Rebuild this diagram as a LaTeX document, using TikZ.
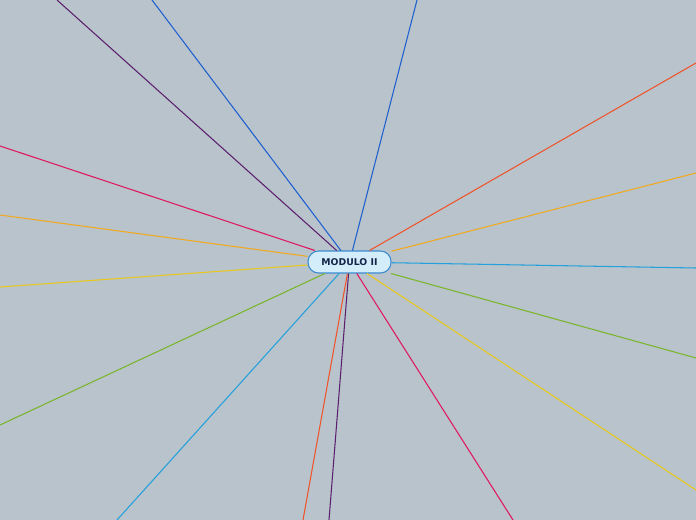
\documentclass[tikz,border=0pt]{standalone}
\usepackage{fontspec}
\setmainfont{DejaVu Sans}
\definecolor{bg}{HTML}{B8C3CB}
\definecolor{nodefill}{HTML}{D3EDFB}
\definecolor{nodeborder}{HTML}{3B8BD0}
\definecolor{nodetext}{HTML}{16264A}
\definecolor{cpurple}{HTML}{5B1F6E}
\definecolor{cblue}{HTML}{1E5FD0}
\definecolor{cred}{HTML}{F0532A}
\definecolor{camber}{HTML}{F2A91E}
\definecolor{ccyan}{HTML}{24A0DC}
\definecolor{cgreen}{HTML}{7AB52A}
\definecolor{cyellow}{HTML}{E8C81A}
\definecolor{cpink}{HTML}{E0165E}
\tikzset{
  branch/.style={line width=0.6pt},
  central/.style={draw=nodeborder, fill=nodefill, line width=0.6pt, rounded corners=6pt,
    minimum width=83*0.02cm, minimum height=22*0.02cm, inner sep=0pt,
    font=\fontsize{5.3}{6}\selectfont\bfseries, text=nodetext}
}
\begin{document}
\begin{tikzpicture}[x=0.02cm,y=-0.02cm]
\fill[bg] (0,0) rectangle (696,520);
\useasboundingbox (0,0) rectangle (696,520);
\clip (0,0) rectangle (696,520);
\node[central] (m) at (349.5,262) {MODULO II};
\coordinate (e1) at (57,0);
\coordinate (e2) at (152,0);
\coordinate (e3) at (417,0);
\coordinate (e4) at (696,63);
\coordinate (e5) at (696,173);
\coordinate (e6) at (696,268);
\coordinate (e7) at (696,358);
\coordinate (e8) at (696,490);
\coordinate (e9) at (513,520);
\coordinate (e10) at (329,520);
\coordinate (e11) at (303,520);
\coordinate (e12) at (117,520);
\coordinate (e13) at (0,425);
\coordinate (e14) at (0,287);
\coordinate (e15) at (0,215);
\coordinate (e16) at (0,146);
\draw[branch,cpurple] (m) -- (e1);
\draw[branch,cblue] (m) -- (e2);
\draw[branch,cblue] (m) -- (e3);
\draw[branch,cred] (m) -- (e4);
\draw[branch,camber] (m) -- (e5);
\draw[branch,ccyan] (m) -- (e6);
\draw[branch,cgreen] (m) -- (e7);
\draw[branch,cyellow] (m) -- (e8);
\draw[branch,cpink] (m) -- (e9);
\draw[branch,cpurple] (m) -- (e10);
\draw[branch,cred] (m) -- (e11);
\draw[branch,ccyan] (m) -- (e12);
\draw[branch,cgreen] (m) -- (e13);
\draw[branch,cyellow] (m) -- (e14);
\draw[branch,camber] (m) -- (e15);
\draw[branch,cpink] (m) -- (e16);
\end{tikzpicture}
\end{document}
